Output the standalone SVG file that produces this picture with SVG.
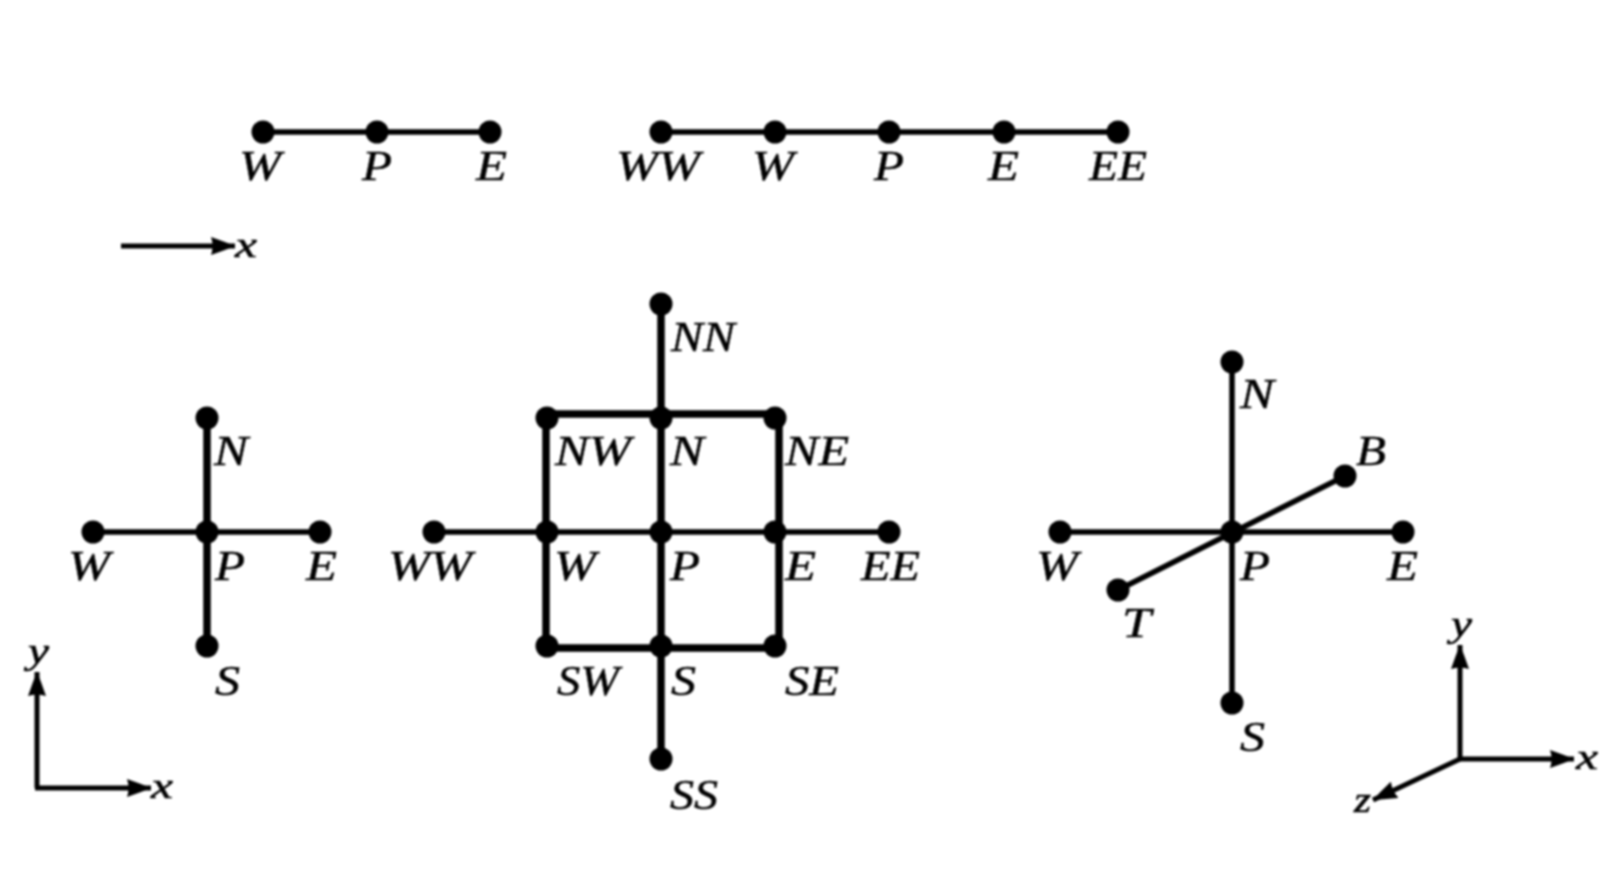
<svg xmlns="http://www.w3.org/2000/svg" width="1609" height="882" viewBox="0 0 1609 882">
<style>
text{font-family:"Liberation Serif",serif;font-style:italic;font-size:43px;fill:#000;stroke:#000;stroke-width:.5}
text.a{font-size:36px;stroke-width:.6}
.c line{stroke:#000;stroke-width:5.5;fill:none}
.c line.t{stroke-width:7.5}
.c line.ax{stroke-width:5}
circle{fill:#000}
</style>
<defs>
<filter id="b" x="-5%" y="-5%" width="110%" height="110%"><feGaussianBlur stdDeviation="1.1"/></filter>
<marker id="h" viewBox="0 0 24 18" refX="24" refY="9" markerWidth="24" markerHeight="18" markerUnits="userSpaceOnUse" orient="auto"><path d="M0 0L14 5L24 9L14 13L0 18Q3 9 0 0Z" fill="#000"/></marker>
</defs>
<rect width="1609" height="882" fill="#fff"/>
<g filter="url(#b)">
<g id="connectors" class="c">
<line x1="263" y1="132" x2="490" y2="132"/>
<line x1="661" y1="132" x2="1118" y2="132"/>
<line class="ax" x1="121" y1="246" x2="235" y2="246" marker-end="url(#h)"/>
<line x1="93" y1="532" x2="320" y2="532"/>
<line class="t" x1="207" y1="418" x2="207" y2="646"/>
<line x1="434" y1="532" x2="889" y2="532"/>
<line class="t" x1="661" y1="304" x2="661" y2="759"/>
<line class="t" x1="547" y1="414" x2="775" y2="414"/>
<line class="t" x1="547" y1="648" x2="775" y2="648"/>
<line class="t" x1="546" y1="414" x2="546" y2="648"/>
<line class="t" x1="779" y1="414" x2="779" y2="648"/>
<line x1="1060" y1="532" x2="1403" y2="532"/>
<line x1="1232" y1="362" x2="1232" y2="703"/>
<line x1="1118" y1="590" x2="1345" y2="476"/>
<line class="ax" x1="37" y1="788" x2="37" y2="672" marker-end="url(#h)"/>
<line class="ax" x1="35" y1="788" x2="151" y2="788" marker-end="url(#h)"/>
<line class="ax" x1="1460" y1="759" x2="1460" y2="645" marker-end="url(#h)"/>
<line class="ax" x1="1458" y1="759" x2="1574" y2="759" marker-end="url(#h)"/>
<line class="ax" x1="1460" y1="759" x2="1373" y2="800" marker-end="url(#h)"/>
</g>
<g id="top3-W"><circle cx="263" cy="132" r="11.5"/><text x="239" y="180" textLength="42" lengthAdjust="spacingAndGlyphs">W</text></g>
<g id="top3-P"><circle cx="377" cy="132" r="11.5"/><text x="362" y="180" textLength="30" lengthAdjust="spacingAndGlyphs">P</text></g>
<g id="top3-E"><circle cx="490" cy="132" r="11.5"/><text x="476" y="180" textLength="31" lengthAdjust="spacingAndGlyphs">E</text></g>
<g id="top5-WW"><circle cx="661" cy="132" r="11.5"/><text x="616" y="180" textLength="84" lengthAdjust="spacingAndGlyphs">WW</text></g>
<g id="top5-W"><circle cx="775" cy="132" r="11.5"/><text x="752" y="180" textLength="42" lengthAdjust="spacingAndGlyphs">W</text></g>
<g id="top5-P"><circle cx="889" cy="132" r="11.5"/><text x="874" y="180" textLength="30" lengthAdjust="spacingAndGlyphs">P</text></g>
<g id="top5-E"><circle cx="1004" cy="132" r="11.5"/><text x="988" y="180" textLength="31" lengthAdjust="spacingAndGlyphs">E</text></g>
<g id="top5-EE"><circle cx="1118" cy="132" r="11.5"/><text x="1089" y="180" textLength="58" lengthAdjust="spacingAndGlyphs">EE</text></g>
<g id="axis1-x"><text class="a" x="235" y="257" textLength="22" lengthAdjust="spacingAndGlyphs">x</text></g>
<g id="c5-W"><circle cx="93" cy="532" r="11.5"/><text x="68" y="580" textLength="42" lengthAdjust="spacingAndGlyphs">W</text></g>
<g id="c5-P"><circle cx="207" cy="532" r="11.5"/><text x="215" y="580" textLength="30" lengthAdjust="spacingAndGlyphs">P</text></g>
<g id="c5-E"><circle cx="320" cy="532" r="11.5"/><text x="306" y="580" textLength="31" lengthAdjust="spacingAndGlyphs">E</text></g>
<g id="c5-N"><circle cx="207" cy="418" r="11.5"/><text x="214" y="465" textLength="34" lengthAdjust="spacingAndGlyphs">N</text></g>
<g id="c5-S"><circle cx="207" cy="646" r="11.5"/><text x="215" y="695" textLength="25" lengthAdjust="spacingAndGlyphs">S</text></g>
<g id="m-NN"><circle cx="661" cy="304" r="11.5"/><text x="671" y="351" textLength="64" lengthAdjust="spacingAndGlyphs">NN</text></g>
<g id="m-NW"><circle cx="547" cy="418" r="11.5"/><text x="555" y="465" textLength="76" lengthAdjust="spacingAndGlyphs">NW</text></g>
<g id="m-N"><circle cx="661" cy="418" r="11.5"/><text x="670" y="465" textLength="34" lengthAdjust="spacingAndGlyphs">N</text></g>
<g id="m-NE"><circle cx="775" cy="418" r="11.5"/><text x="785" y="465" textLength="64" lengthAdjust="spacingAndGlyphs">NE</text></g>
<g id="m-WW"><circle cx="434" cy="532" r="11.5"/><text x="388" y="580" textLength="84" lengthAdjust="spacingAndGlyphs">WW</text></g>
<g id="m-W"><circle cx="547" cy="532" r="11.5"/><text x="554" y="580" textLength="42" lengthAdjust="spacingAndGlyphs">W</text></g>
<g id="m-P"><circle cx="661" cy="532" r="11.5"/><text x="670" y="580" textLength="30" lengthAdjust="spacingAndGlyphs">P</text></g>
<g id="m-E"><circle cx="775" cy="532" r="11.5"/><text x="785" y="580" textLength="31" lengthAdjust="spacingAndGlyphs">E</text></g>
<g id="m-EE"><circle cx="889" cy="532" r="11.5"/><text x="861" y="580" textLength="59" lengthAdjust="spacingAndGlyphs">EE</text></g>
<g id="m-SW"><circle cx="547" cy="646" r="11.5"/><text x="557" y="695" textLength="62" lengthAdjust="spacingAndGlyphs">SW</text></g>
<g id="m-S"><circle cx="661" cy="646" r="11.5"/><text x="671" y="695" textLength="25" lengthAdjust="spacingAndGlyphs">S</text></g>
<g id="m-SE"><circle cx="775" cy="646" r="11.5"/><text x="785" y="695" textLength="54" lengthAdjust="spacingAndGlyphs">SE</text></g>
<g id="m-SS"><circle cx="661" cy="759" r="11.5"/><text x="670" y="809" textLength="48" lengthAdjust="spacingAndGlyphs">SS</text></g>
<g id="r-W"><circle cx="1060" cy="532" r="11.5"/><text x="1036" y="580" textLength="42" lengthAdjust="spacingAndGlyphs">W</text></g>
<g id="r-P"><circle cx="1232" cy="532" r="11.5"/><text x="1240" y="580" textLength="30" lengthAdjust="spacingAndGlyphs">P</text></g>
<g id="r-E"><circle cx="1403" cy="532" r="11.5"/><text x="1387" y="580" textLength="31" lengthAdjust="spacingAndGlyphs">E</text></g>
<g id="r-N"><circle cx="1232" cy="362" r="11.5"/><text x="1240" y="408" textLength="34" lengthAdjust="spacingAndGlyphs">N</text></g>
<g id="r-S"><circle cx="1232" cy="703" r="11.5"/><text x="1240" y="751" textLength="25" lengthAdjust="spacingAndGlyphs">S</text></g>
<g id="r-B"><circle cx="1345" cy="476" r="11.5"/><text x="1356" y="465" textLength="30" lengthAdjust="spacingAndGlyphs">B</text></g>
<g id="r-T"><circle cx="1118" cy="590" r="11.5"/><text x="1122" y="637" textLength="29" lengthAdjust="spacingAndGlyphs">T</text></g>
<g id="axis2-y"><text class="a" x="28" y="663" textLength="21" lengthAdjust="spacingAndGlyphs">y</text></g>
<g id="axis2-x"><text class="a" x="151" y="798" textLength="22" lengthAdjust="spacingAndGlyphs">x</text></g>
<g id="axis3-y"><text class="a" x="1451" y="636" textLength="21" lengthAdjust="spacingAndGlyphs">y</text></g>
<g id="axis3-x"><text class="a" x="1576" y="769" textLength="22" lengthAdjust="spacingAndGlyphs">x</text></g>
<g id="axis3-z"><text class="a" x="1354" y="812" textLength="17" lengthAdjust="spacingAndGlyphs">z</text></g>
</g>
</svg>
